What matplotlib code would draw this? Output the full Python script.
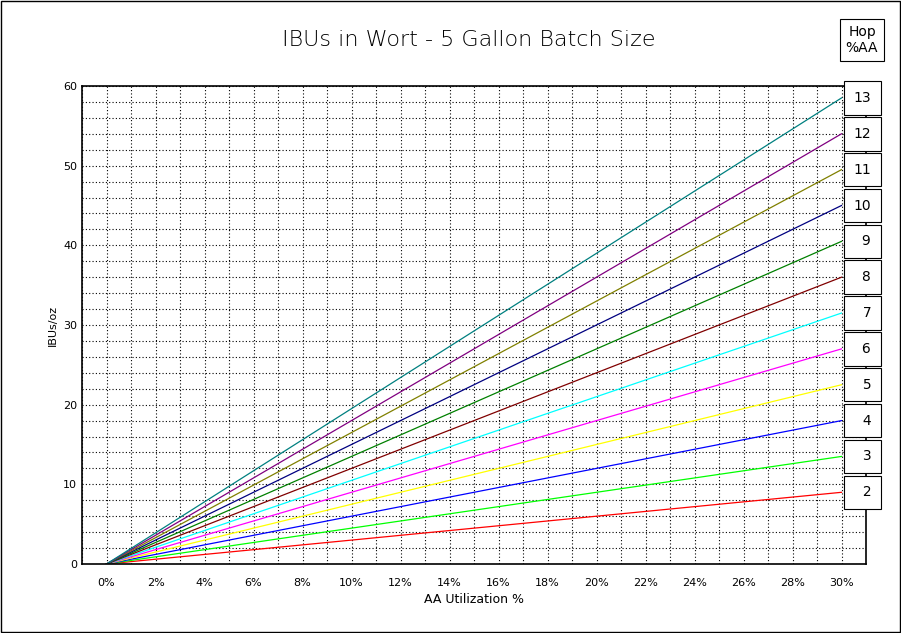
import matplotlib.pyplot as plt
import numpy as np

hop_aa = [2, 3, 4, 5, 6, 7, 8, 9, 10, 11, 12, 13]
ibu_at_30 = [9.0, 13.5, 18.0, 22.5, 27.0, 31.5, 36.0, 40.5, 45.0, 49.5, 54.0, 58.5]
colors = ['#ff0000', '#00ff00', '#0000ff', '#ffff00', '#ff00ff', '#00ffff',
          '#800000', '#008000', '#000080', '#808000', '#800080', '#008080']
x_ticks = list(range(0, 31, 2))

fig = plt.figure(figsize=(9.01, 6.33), dpi=100)
fig.patch.set_facecolor('white')
ax = fig.add_axes([82 / 901, 1 - 564 / 633, (866 - 82) / 901, (564 - 86) / 633])

for aa, end, c in zip(hop_aa, ibu_at_30, colors):
    ax.plot([0, 30], [0, end], color=c, lw=0.9)
    label = str(aa) if aa >= 10 else '\u2007' + str(aa)
    ax.text(30.85, end, label, va='center', ha='center', fontsize=10,
            bbox=dict(boxstyle='square,pad=0.7', fc='white', ec='black', lw=0.8),
            clip_on=False)

ax.set_xlim(-1, 31)
ax.set_ylim(0, 60)
ax.set_xticks(x_ticks)
ax.set_xticklabels([f'{v}%' for v in x_ticks], fontsize=8)
ax.set_xticks(range(-1, 31), minor=True)
ax.set_yticks(range(0, 61, 10))
ax.set_yticks(range(0, 61, 2), minor=True)
ax.tick_params(axis='y', labelsize=8, length=0)
ax.tick_params(axis='x', length=0, pad=10)
ax.tick_params(which='minor', length=0)
ax.grid(which='both', color='black', linestyle=(0, (1, 2)), lw=0.8)
ax.set_axisbelow(True)
for s in ax.spines.values():
    s.set_linewidth(1.2)

ax.set_xlabel('AA Utilization %', fontsize=9)
ax.set_ylabel('IBUs/oz', fontsize=8)
fig.text(0.52, 1 - 40 / 633, 'IBUs in Wort - 5 Gallon Batch Size', ha='center', va='center',
         fontsize=16, fontweight='light')
fig.text(862 / 901, 1 - 40 / 633, 'Hop\n%AA', ha='center', va='center', fontsize=10,
         bbox=dict(boxstyle='square,pad=0.4', fc='white', ec='black', lw=0.8))
fig.add_artist(plt.Rectangle((0.001, 0.001), 0.998, 0.998, transform=fig.transFigure,
                             fill=False, ec='black', lw=1))

fig.savefig('out.png', dpi=100)
